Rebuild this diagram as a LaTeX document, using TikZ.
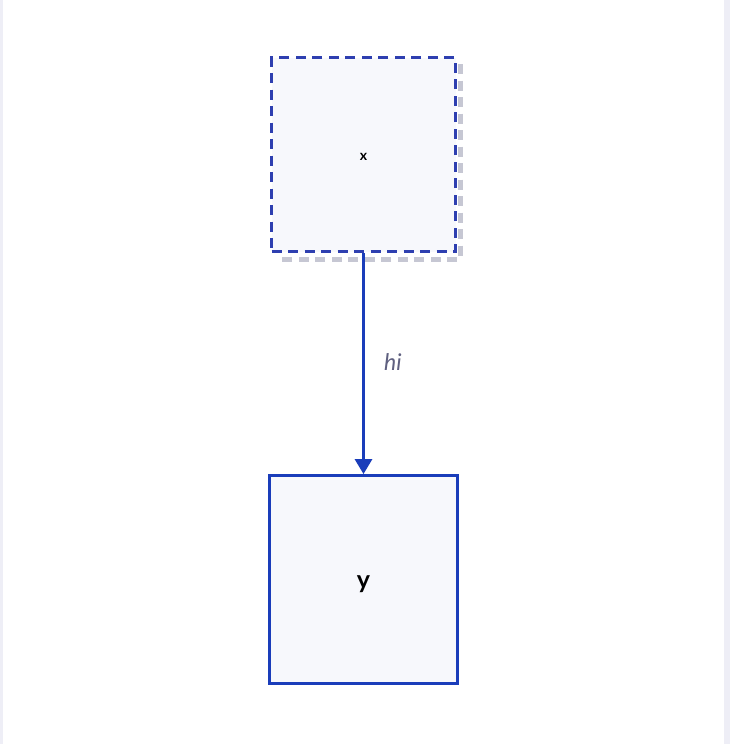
\documentclass[tikz,border=0pt]{standalone}
\usepackage{fontspec}
\setmainfont{Lato}
\usetikzlibrary{arrows.meta}
\definecolor{edgeblue}{HTML}{1A3DBA}
\definecolor{dashblue}{HTML}{2E3FB0}
\definecolor{boxfill}{HTML}{F7F8FC}
\definecolor{shadowgray}{HTML}{C6C7D3}
\definecolor{sidebar}{HTML}{EEEEF6}
\definecolor{labelgray}{HTML}{5F6080}
\tikzset{
  nodebox/.style={draw=edgeblue, fill=boxfill, line width=2.8pt, minimum width=188pt, minimum height=208pt, inner sep=0pt, text=black, font=\bfseries\fontsize{25}{28}\selectfont, text height=18pt, text depth=0pt},
  dashbox/.style={draw=dashblue, fill=boxfill, line width=2.6pt, dash pattern=on 10pt off 6.5pt, minimum width=184pt, minimum height=194pt, inner sep=0pt, text=black, font=\bfseries\fontsize{14}{16}\selectfont, text height=11pt, text depth=0pt},
  link/.style={draw=edgeblue, line width=2.8pt, -{Triangle[length=15pt,width=17pt]}},
  linklabel/.style={text=labelgray, font=\itshape\fontsize{23}{26}\selectfont}
}
\begin{document}
\begin{tikzpicture}[x=1pt,y=-1pt]
\useasboundingbox (0,0) rectangle (730,744);
\fill[white] (0,0) rectangle (730,744);
\fill[sidebar] (0,0) rectangle (3,744);
\fill[sidebar] (724,0) rectangle (730,744);
% shadow
\draw[shadowgray, line width=5pt, dash pattern=on 10pt off 6.5pt] (460,64) -- (460,259) -- (279,259);
\node[dashbox] (x) at (363.5,154.5) {x};
\node[nodebox] (y) at (363.5,579.5) {y};
\draw[link] (x.south) -- (y.north) node[midway, right=16pt, linklabel, yshift=1pt] {hi};
\end{tikzpicture}
\end{document}
